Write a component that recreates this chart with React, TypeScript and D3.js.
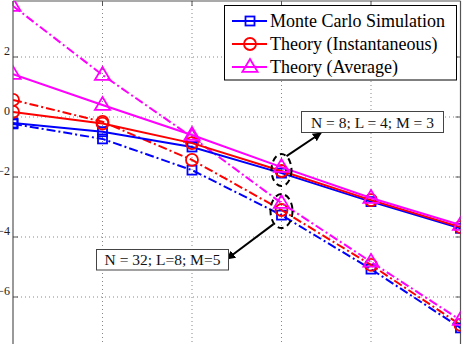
import React from "react";
import * as d3 from "d3";

const xIndex = [0, 1, 2, 3, 4, 5];
const yTicks = [2, 0, -2, -4, -6];
const mcN8 = [-0.2, -0.49, -1.0, -1.87, -2.82, -3.71];
const instN8 = [0.17, -0.22, -0.87, -1.8, -2.77, -3.67];
const avgN8 = [1.43, 0.4, -0.6, -1.67, -2.7, -3.6];
const mcN32 = [-0.23, -0.73, -1.77, -3.27, -5.07, -7.03];
const instN32 = [0.57, -0.16, -1.43, -3.1, -4.93, -6.93];
const avgN32 = [3.7, 1.4, -0.67, -2.87, -4.83, -6.77];
const legendLabels = ["Monte Carlo Simulation", "Theory (Instantaneous)", "Theory (Average)"];
const annoLabels = ["N = 8; L = 4; M = 3", "N = 32; L=8; M=5"];

const W = 474;
const H = 344;
const FONT = "'Liberation Serif', 'Times New Roman', serif";

type Kind = "square" | "circle" | "triangle";

function Marker({ kind, x, y, color }: { kind: Kind; x: number; y: number; color: string }) {
  const sw = 1.8;
  if (kind === "square")
    return <rect x={x - 4.5} y={y - 4.5} width={9} height={9} fill="none" stroke={color} strokeWidth={sw} />;
  if (kind === "circle") return <circle cx={x} cy={y} r={6} fill="none" stroke={color} strokeWidth={sw} />;
  const s = 8;
  return (
    <path
      d={`M${x},${y - s}L${x + s * 0.95},${y + s * 0.6}L${x - s * 0.95},${y + s * 0.6}Z`}
      fill="none"
      stroke={color}
      strokeWidth={sw}
    />
  );
}

export default function App() {
  const left = 13;
  const right = 460.5;
  const top = 1;
  const x = d3.scaleLinear().domain([0, 5]).range([left, right]);
  const y = d3.scaleLinear().domain([-8, 4]).range([357, -3]);

  const series = [
    { data: mcN32, color: "#0000ff", kind: "square" as Kind, dash: "9,3,2,3" },
    { data: instN32, color: "#ff0000", kind: "circle" as Kind, dash: "9,3,2,3" },
    { data: avgN32, color: "#ff00ff", kind: "triangle" as Kind, dash: "9,3,2,3" },
    { data: mcN8, color: "#0000ff", kind: "square" as Kind, dash: undefined },
    { data: instN8, color: "#ff0000", kind: "circle" as Kind, dash: undefined },
    { data: avgN8, color: "#ff00ff", kind: "triangle" as Kind, dash: undefined },
  ];

  const line = d3
    .line<number>()
    .x((_, i) => x(xIndex[i]))
    .y((d) => y(d));

  const legend = [
    { color: "#0000ff", kind: "square" as Kind },
    { color: "#ff0000", kind: "circle" as Kind },
    { color: "#ff00ff", kind: "triangle" as Kind },
  ];

  const ax = x(3);
  const upperCy = (y(mcN8[3]) + y(avgN8[3])) / 2;
  const lowerCy = (y(mcN32[3]) + y(avgN32[3])) / 2;

  return (
    <svg
      width={W}
      height={H}
      style={{ position: "absolute", left: 0, top: 0, background: "#fff" }}
      fontFamily={FONT}
    >
      <defs>
        <clipPath id="plot">
          <rect x={left} y={top} width={right - left} height={H} />
        </clipPath>
        <marker id="arrow" viewBox="0 0 10 10" refX="9" refY="5" markerWidth="9" markerHeight="9" orient="auto-start-reverse" markerUnits="userSpaceOnUse">
          <path d="M0,0L10,5L0,10Z" fill="#000" />
        </marker>
      </defs>
      <rect width={W} height={H} fill="#fff" />
      {yTicks.map((t) => (
        <line key={"gy" + t} x1={left} x2={right} y1={y(t)} y2={y(t)} stroke="#888" strokeWidth={1} strokeDasharray="1,3" />
      ))}
      {xIndex.slice(1, -1).map((t) => (
        <line key={"gx" + t} x1={x(t)} x2={x(t)} y1={top} y2={H} stroke="#888" strokeWidth={1} strokeDasharray="1,3" />
      ))}
      <line x1={left} x2={left} y1={top} y2={H} stroke="#555" strokeWidth={1.2} />
      <line x1={right} x2={right} y1={top} y2={H} stroke="#555" strokeWidth={1.2} />
      <line x1={left} x2={right} y1={top} y2={top} stroke="#555" strokeWidth={1.2} />
      {yTicks.map((t) => (
        <g key={"ty" + t}>
          <line x1={left} x2={left + 5} y1={y(t)} y2={y(t)} stroke="#555" />
          <line x1={right - 5} x2={right} y1={y(t)} y2={y(t)} stroke="#555" />
          <text x={10} y={y(t) - 2} textAnchor="end" fontSize={12} fill="#222">
            {t < 0 ? "\u2212" + Math.abs(t) : String(t)}
          </text>
        </g>
      ))}
      {xIndex.map((t) => (
        <line key={"tx" + t} x1={x(t)} x2={x(t)} y1={top} y2={top + 5} stroke="#555" />
      ))}
      <g clipPath="url(#plot)">
        {series.map((s, si) => (
          <g key={si}>
            <path d={line(s.data) || ""} fill="none" stroke={s.color} strokeWidth={2} strokeDasharray={s.dash} />
            {s.data.map((v, i) => (
              <Marker key={i} kind={s.kind} x={x(xIndex[i])} y={y(v)} color={s.color} />
            ))}
          </g>
        ))}
      </g>
      <ellipse cx={ax} cy={upperCy} rx={10} ry={16} fill="none" stroke="#000" strokeWidth={2} strokeDasharray="6,4" />
      <ellipse cx={ax} cy={lowerCy + 2} rx={11} ry={17} fill="none" stroke="#000" strokeWidth={2} strokeDasharray="6,4" />
      <line x1={ax + 5} x2={321} y1={upperCy - 14} y2={133} stroke="#000" strokeWidth={2} markerEnd="url(#arrow)" />
      <rect x={301.5} y={111.5} width={142} height={21} fill="#fff" stroke="#444" strokeWidth={1} />
      <text x={372.5} y={127.5} textAnchor="middle" fontSize={15.5} fill="#111">
        {annoLabels[0]}
      </text>
      <line x1={ax - 8} x2={227} y1={lowerCy + 15} y2={259} stroke="#000" strokeWidth={2} markerEnd="url(#arrow)" />
      <rect x={96.5} y={249.5} width={132} height={20.5} fill="#fff" stroke="#444" strokeWidth={1} />
      <text x={162.5} y={265} textAnchor="middle" fontSize={15.5} fill="#111">
        {annoLabels[1]}
      </text>
      <rect x={224.5} y={5.5} width={232} height={74.5} fill="#fff" stroke="#000" strokeWidth={1} />
      {legend.map((l, i) => {
        const ly = 21 + i * 23;
        return (
          <g key={i}>
            <line x1={232} x2={267} y1={ly} y2={ly} stroke={l.color} strokeWidth={2} />
            <Marker kind={l.kind} x={250} y={ly} color={l.color} />
            <text x={270} y={ly + 6} fontSize={18} fill="#000">
              {legendLabels[i]}
            </text>
          </g>
        );
      })}
    </svg>
  );
}
